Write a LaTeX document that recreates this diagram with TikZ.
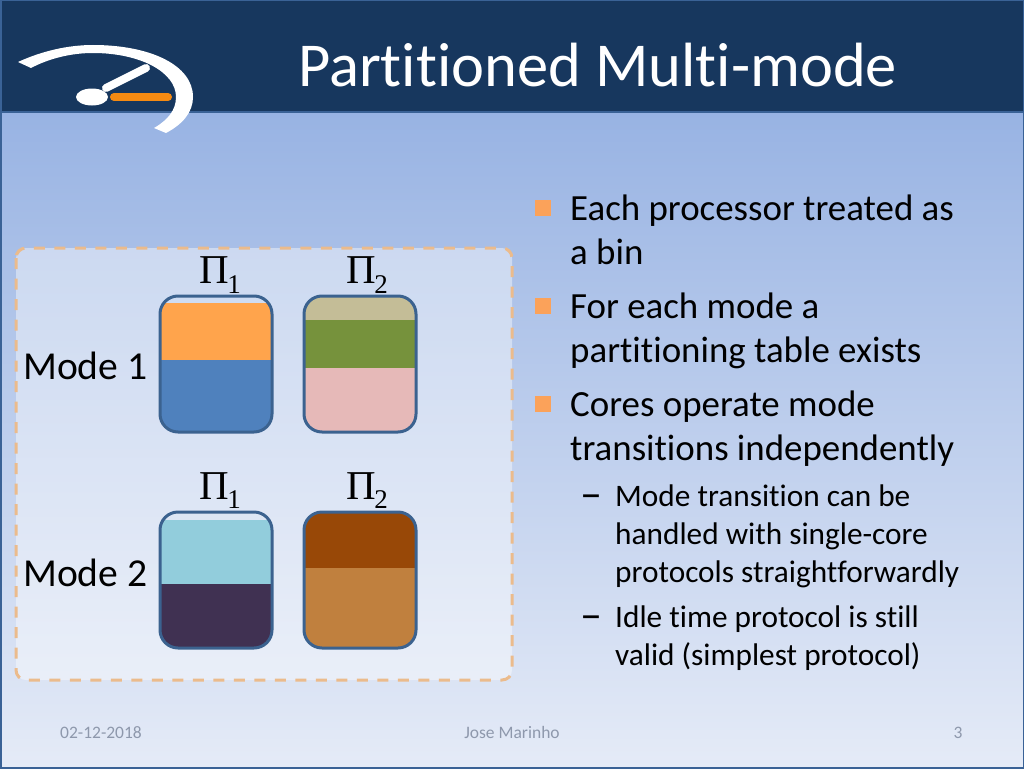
\documentclass[tikz,border=0pt]{standalone}
\usepackage{fontspec}
\setmainfont[Ligatures=NoCommon]{Carlito}
\newfontfamily\piserif{Liberation Serif}
\usetikzlibrary{shadings}
\definecolor{headblue}{HTML}{17375E}
\definecolor{edgeblue}{HTML}{3A6296}
\definecolor{boxedge}{HTML}{3B628F}
\definecolor{bgtop}{HTML}{98B3E3}
\definecolor{bgbot}{HTML}{E5EBF7}
\definecolor{dashor}{HTML}{EBBB8C}
\definecolor{bulletor}{HTML}{FBA25A}
\definecolor{footgrey}{HTML}{8E98AC}
\definecolor{needleor}{HTML}{F58A12}
\definecolor{cOrange}{HTML}{FFA44C}
\definecolor{cBlue}{HTML}{4F81BD}
\definecolor{cTan}{HTML}{C4BD97}
\definecolor{cGreen}{HTML}{76923C}
\definecolor{cPink}{HTML}{E6B9B8}
\definecolor{cCyan}{HTML}{92CDDC}
\definecolor{cPurple}{HTML}{403152}
\definecolor{cBrown}{HTML}{984807}
\definecolor{cOchre}{HTML}{C0803E}
\definecolor{cPale}{HTML}{DCE6F4}
\tikzset{
  x=1pt,y=-1pt,
  titletext/.style={font=\fontsize{62.5}{66}\selectfont,text=white,anchor=base west,inner sep=0},
  maintext/.style={font=\fontsize{36.9}{44}\selectfont,text=black,anchor=base west,inner sep=0},
  subtext/.style={font=\fontsize{31.3}{38}\selectfont,text=black,anchor=base west,inner sep=0},
  dashtext/.style={font=\fontsize{44}{44}\selectfont,text=black,anchor=base west,inner sep=0},
  modetext/.style={font=\fontsize{39.6}{44}\selectfont,text=black,anchor=base west,inner sep=0},
  pitext/.style={font=\piserif\fontsize{41}{48}\selectfont,text=black,anchor=base west,inner sep=0},
  foottext/.style={font=\fontsize{17.5}{18}\selectfont,text=footgrey,anchor=base,inner sep=0},
  bulletbox/.style={fill=bulletor,minimum size=16pt,inner sep=0,draw=none},
  binedge/.style={draw=boxedge,line width=3pt,rounded corners=18pt},
}
\newcommand{\pisub}[1]{Π\kern-1.5pt\raisebox{-9.5pt}{\fontsize{27}{30}\selectfont #1}}
\begin{document}
\begin{tikzpicture}
\useasboundingbox (0,0) rectangle (1024,768);
% background
\path[top color=bgtop,bottom color=bgbot] (0,112) rectangle (1024,768);
\fill[headblue] (0,0) rectangle (1024,111);
\draw[edgeblue,line width=2.5pt] (0,112) -- (1024,112);
\draw[edgeblue,line width=3pt] (0,0) rectangle (1024,768);
% gauge logo
\fill[white] (18,62) .. controls (42,51) and (68,45) .. (93,45)
  .. controls (150,45) and (193,65) .. (193,97)
  .. controls (193,112) and (183,124) .. (166,133)
  -- (154,128)
  .. controls (168,120) and (176,110) .. (176,97)
  .. controls (176,72) and (140,53) .. (93,53)
  .. controls (72,53) and (50,58) .. (31,68) -- cycle;
\draw[white,line width=8pt,line cap=round] (106,88) -- (146,68);
\fill[white] (92,97) ellipse [x radius=16, y radius=8.5];
\draw[needleor,line width=8pt,line cap=round] (114,97) -- (168,97);
% title
\node[titletext] (title) at (298,86.5) {Partitioned Multi-mode};
% panel
\path[fill=white,fill opacity=0.42,rounded corners=10pt] (16,248) rectangle (512,680);
\draw[dashor,line width=3pt,dash pattern=on 11pt off 9.5pt,rounded corners=10pt] (16,248) rectangle (512,680);
% Mode 1 bins
\begin{scope}
  \clip[rounded corners=18pt] (160,296) rectangle (272,432);
  \fill[cOrange] (160,303) rectangle (272,360);
  \fill[cBlue] (160,360) rectangle (272,432);
\end{scope}
\path[binedge] (160,296) rectangle (272,432);
\begin{scope}
  \clip[rounded corners=18pt] (304,296) rectangle (416,432);
  \fill[cTan] (304,296) rectangle (416,320);
  \fill[cGreen] (304,320) rectangle (416,368);
  \fill[cPink] (304,368) rectangle (416,432);
\end{scope}
\path[binedge] (304,296) rectangle (416,432);
% Mode 2 bins
\begin{scope}
  \clip[rounded corners=18pt] (160,512) rectangle (272,648);
  \fill[cPale] (160,512) rectangle (272,520);
  \fill[cCyan] (160,520) rectangle (272,584);
  \fill[cPurple] (160,584) rectangle (272,648);
\end{scope}
\path[binedge] (160,512) rectangle (272,648);
\begin{scope}
  \clip[rounded corners=18pt] (304,512) rectangle (416,648);
  \fill[cBrown] (304,512) rectangle (416,568);
  \fill[cOchre] (304,568) rectangle (416,648);
\end{scope}
\path[binedge] (304,512) rectangle (416,648);
% labels
\node[modetext] (m1) at (23,379.5) {Mode 1};
\node[modetext] (m2) at (23,586.5) {Mode 2};
\node[pitext] (p11) at (199,283.5) {\pisub{1}};
\node[pitext] (p12) at (346,283.5) {\pisub{2}};
\node[pitext] (p21) at (199,499) {\pisub{1}};
\node[pitext] (p22) at (346,499) {\pisub{2}};
% bullets
\node[bulletbox] (b1) at (543,208) {};
\node[bulletbox] (b2) at (543,306) {};
\node[bulletbox] (b3) at (543,404) {};
\node[maintext] (t1a) at (570,220) {Each processor treated as};
\node[maintext] (t1b) at (570,264) {a bin};
\node[maintext] (t2a) at (570,318) {For each mode a};
\node[maintext] (t2b) at (570,362) {partitioning table exists};
\node[maintext] (t3a) at (570,416) {Cores operate mode};
\node[maintext] (t3b) at (570,460) {transitions independently};
\node[dashtext] (d1) at (580,508) {–};
\node[subtext] (s1a) at (615,506) {Mode transition can be};
\node[subtext] (s1b) at (615,544) {handled with single-core};
\node[subtext] (s1c) at (615,582) {protocols straightforwardly};
\node[dashtext] (d2) at (580,629) {–};
\node[subtext] (s2a) at (615,627) {Idle time protocol is still};
\node[subtext] (s2b) at (615,665) {valid (simplest protocol)};
% footer
\node[foottext] (f1) at (101,738.5) {02-12-2018};
\node[foottext] (f2) at (512,738.5) {Jose Marinho};
\node[foottext] (f3) at (958,738.5) {3};
\end{tikzpicture}
\end{document}
